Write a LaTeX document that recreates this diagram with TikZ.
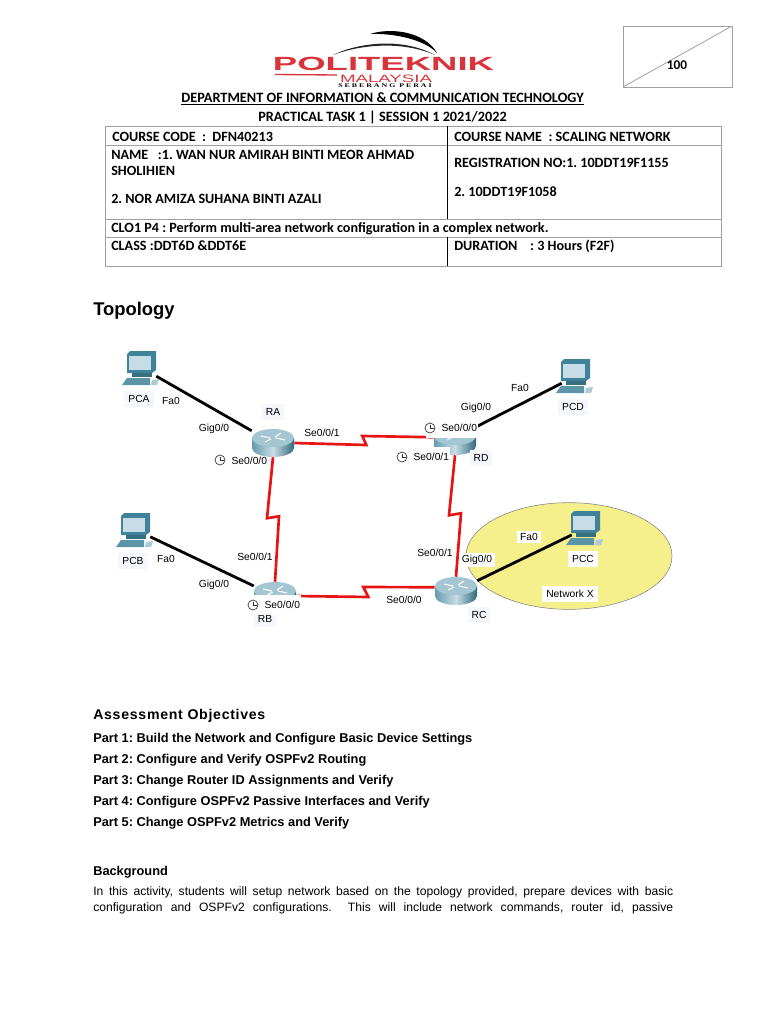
\documentclass[tikz,border=0pt]{standalone}
\usepackage{fontspec}
\setmainfont{Liberation Sans}
\newfontfamily\calibri{Carlito}
\newfontfamily\timesface{Liberation Serif}
\usetikzlibrary{positioning,shapes.geometric}
\definecolor{linkred}{HTML}{E81414}
\definecolor{logored}{HTML}{D9343C}
\definecolor{gridgray}{HTML}{A0A0A0}
\definecolor{nety}{HTML}{F6F08C}
\definecolor{labelbg}{HTML}{F5F7FC}
\definecolor{pcdark}{HTML}{3F8299}
\definecolor{pcscreen}{HTML}{C6DDE7}
\tikzset{
 pics/pcpic/.style={code={
  \fill[pcdark] (-15,-14) -- (-12,-17) -- (14,-17) -- (14,2) -- (10,5) -- (-15,5) -- cycle;
  \fill[pcscreen] (-13,-12) rectangle (9,2);
  \fill[pcdark!85!black] (-10,5) rectangle (10,9);
  \fill[pcdark!85!white] (-20,17) -- (-15,10) -- (8,10) -- (8,17) -- cycle;
  \fill[pcscreen!80!pcdark] (10,12) -- (17,11) -- (15,17) -- (9,17) -- cycle;}},
 pics/routerpic/.style={code={
  \path[left color=pcdark!80!white,right color=pcdark!80!black,middle color=pcscreen]
   (-21,-5) -- (-21,5) arc (180:0:21 and 9) -- (21,-5) -- cycle;
  \fill[pcscreen!75!pcdark] (0,-5) ellipse [x radius=21,y radius=9];
  \draw[white,line width=.8pt] (-12,-7) -- (-3,-5) (12,-3) -- (3,-5) (-8,-1) -- (-2,-4) (8,-10) -- (2,-6);}},
 pics/clockpic/.style={code={
  \draw[black!80,line width=.5pt] (0,0) circle [radius=5];
  \draw[black!80,line width=.5pt] (0,-3.5) -- (0,0) -- (3.5,0);}}
}
\begin{document}
\frenchspacing
\begin{tikzpicture}[x=.75pt,y=-.75pt,
 devnode/.style={inner sep=0pt,minimum width=21pt,minimum height=12pt},
 routernode/.style={inner sep=0pt,minimum width=31.5pt,minimum height=21pt},
 linklabel/.style={inner sep=1pt,font=\fontsize{7.7}{9}\selectfont},
 netlabel/.style={linklabel,fill=white},
 devlabel/.style={linklabel,fill=labelbg,inner xsep=3pt,inner ysep=3pt},
 clocklabel/.style={linklabel,fill=white,minimum height=15pt},
 serial/.style={linkred,line width=2pt},
 lan/.style={black,line width=2.1pt},
 cell/.style={anchor=west,inner sep=0pt,font=\calibri\bfseries\fontsize{10.6}{12}\selectfont},
 title/.style={inner sep=0pt,font=\calibri\bfseries\fontsize{10.7}{12}\selectfont},
 partline/.style={anchor=west,inner sep=0pt,font=\bfseries\fontsize{9.6}{11}\selectfont},
 bodyline/.style={anchor=west,inner sep=0pt,font=\fontsize{9.1}{11}\selectfont},
 gridline/.style={gridgray,line width=.6pt}]
\useasboundingbox[fill=white] (0,0) rectangle (768,1024);
% logo
\node[inner sep=0pt,text=logored] (logotext) at (383.5,63.5) {\resizebox{165.75pt}{10pt}{\bfseries POLITEKNIK}};
\node[inner sep=0pt,text=logored] (logomalaysia) at (386,78.5) {\resizebox{69pt}{5.6pt}{MALAYSIA}};
\node[inner sep=0pt] (logoplace) at (385,85.5) {\resizebox{70pt}{2.8pt}{\timesface\bfseries S E B E R A N G\ \ P E R A I}};
\draw[logored,line width=1pt] (275,74.5) -- (337,75);
\fill[black] (370,34) .. controls (392,27) and (425,32) .. (437,53) .. controls (425,40) and (395,33) .. (370,34);
\fill[black!85] (333,55) .. controls (355,44) and (400,36) .. (435,55) .. controls (405,42) and (365,43) .. (333,55);
% score box
\draw[gridline] (623,26) rectangle (732,87);
\draw[gridline] (623,87) -- (732,26);
\node[inner sep=0pt,font=\calibri\bfseries\fontsize{10}{12}\selectfont] (score) at (677,65) {100};
% heading and table
\node[title] (dept) at (382.5,99) {\underline{DEPARTMENT OF INFORMATION \& COMMUNICATION TECHNOLOGY}};
\node[title] (task) at (382.5,117) {PRACTICAL TASK 1 | SESSION 1 2021/2022};
\draw[gridline] (105,126) rectangle (721,266);
\draw[gridline] (105,145) -- (721,145) (105,219) -- (721,219) (105,237) -- (721,237);
\draw[black,line width=.5pt] (447,126) -- (447,219) (447,237) -- (447,266);
\node[cell] (code) at (112,137) {COURSE CODE\ \ :\ \ DFN40213};
\node[cell] (cname) at (454,137) {COURSE NAME\ \ : SCALING NETWORK};
\node[cell] (nameone) at (111,155) {NAME\ \ \ :1. WAN NUR AMIRAH BINTI MEOR AHMAD};
\node[cell] (sholi) at (111,171) {SHOLIHIEN};
\node[cell] (nametwo) at (111,199) {2. NOR AMIZA SUHANA BINTI AZALI};
\node[cell] (regone) at (454,163) {REGISTRATION NO:1. 10DDT19F1155};
\node[cell] (regtwo) at (454,192) {2. 10DDT19F1058};
\node[cell] (clo) at (111,229) {CLO1 P4 : Perform multi-area network configuration in a complex network.};
\node[cell] (class) at (111,246) {CLASS :DDT6D \&DDT6E};
\node[cell] (dur) at (454,246) {DURATION\ \ \ \ : 3 Hours (F2F)};
\node[anchor=west,inner sep=0pt,font=\bfseries\fontsize{13.8}{16}\selectfont] (topo) at (93,311) {Topology};
% network
\node[ellipse,draw=black!50,line width=.4pt,fill=nety,inner sep=0pt,minimum width=154.5pt,minimum height=80pt] (netx) at (569,556) {};
\node[devnode] (PCA) at (142,368) {};
\node[devnode] (PCD) at (576,376) {};
\node[devnode] (PCB) at (136,530) {};
\node[devnode] (PCC) at (586,528) {};
\node[routernode] (RA) at (273,443) {};
\node[routernode] (RD) at (455,441) {};
\node[routernode] (RB) at (275,596) {};
\node[routernode] (RC) at (456,591) {};
\foreach \a/\b in {PCA/RA,PCB/RB,PCC/RC}
  \draw[lan] (\a) -- (\b);
\draw[lan] (PCD) -- (RD.north east);
\draw[serial] (RA.east) -- ++(72,2) -- ++(-4,-9) -- (RD.170);
\draw[serial] (RB.east) -- ++(72,1) -- ++(-5,-10) -- (RC.170);
\draw[serial] (RA.south) -- ++(-6,61) -- ++(12,-2) -- (RB.north);
\draw[serial] (RD.south) -- ++(-6,60) -- ++(12,-2) -- (RC.north);
\foreach \d in {PCA,PCD,PCB,PCC}
  \pic at (\d) {pcpic};
\foreach \d in {RA,RD,RB,RC}
  \pic at (\d) {routerpic};
\foreach \t/\x/\y in {PCA/139/399,PCD/573/407,PCB/133/561,RA/273/412,RD/481/458,RB/265/619,RC/479/615}
  \node[devlabel] (lab\t) at (\x,\y) {\t};
\node[devlabel,fill=white] (labPCC) at (583,559) {PCC};
\node[netlabel,inner sep=3pt] (labnet) at (570,594) {Network X};
\foreach \n/\x/\y/\t in {fa/171/401/Fa0,gi/214/429/{Gig0/0},sea/322/433/{Se0/0/1},fb/520/388/Fa0,gb/476/408/{Gig0/0},
  fc/166/559/Fa0,seb/255/557/{Se0/0/1},gc/214/585/{Gig0/0},sec/404/600/{Se0/0/0},sed/435/553/{Se0/0/1}}
  \node[linklabel] (\n) at (\x,\y) {\t};
\node[netlabel,inner sep=2pt] (gd) at (477,560) {Gig0/0};
\node[netlabel,inner sep=2pt] (fd) at (529,537) {Fa0};
\node[linklabel] (clka) at (242,460.5) {\hspace{11pt}Se0/0/0};
\node[clocklabel] (clkb) at (452,428) {\hspace{11pt}Se0/0/0};
\node[clocklabel] (clkc) at (424,457) {\hspace{11pt}Se0/0/1};
\node[clocklabel] (clkd) at (275,605) {\hspace{11pt}Se0/0/0};
\pic at (220,460) {clockpic};
\pic at (430,428) {clockpic};
\pic at (402,457) {clockpic};
\pic at (253,605) {clockpic};
% objectives
\node[partline,font=\bfseries\fontsize{10.6}{12}\selectfont\addfontfeature{LetterSpace=5}] (obj) at (93,716) {Assessment Objectives};
\node[partline] (p1) at (93,739) {Part 1: Build the Network and Configure Basic Device Settings};
\node[partline,below=15.75pt of p1.west,anchor=west] (p2) {Part 2: Configure and Verify OSPFv2 Routing};
\node[partline,below=15.75pt of p2.west,anchor=west] (p3) {Part 3: Change Router ID Assignments and Verify};
\node[partline,below=15.75pt of p3.west,anchor=west] (p4) {Part 4: Configure OSPFv2 Passive Interfaces and Verify};
\node[partline,below=15.75pt of p4.west,anchor=west] (p5) {Part 5: Change OSPFv2 Metrics and Verify};
\node[partline] (bg) at (93,872) {Background};
\node[bodyline] (b1) at (93,892) {\makebox[435pt][s]{In this activity, students will setup network based on the topology provided, prepare devices with basic}};
\node[bodyline,below=12pt of b1.west,anchor=west] (b2) {\makebox[435pt][s]{configuration and OSPFv2 configurations.\ \ This will include network commands, router id, passive}};
\end{tikzpicture}
\end{document}
